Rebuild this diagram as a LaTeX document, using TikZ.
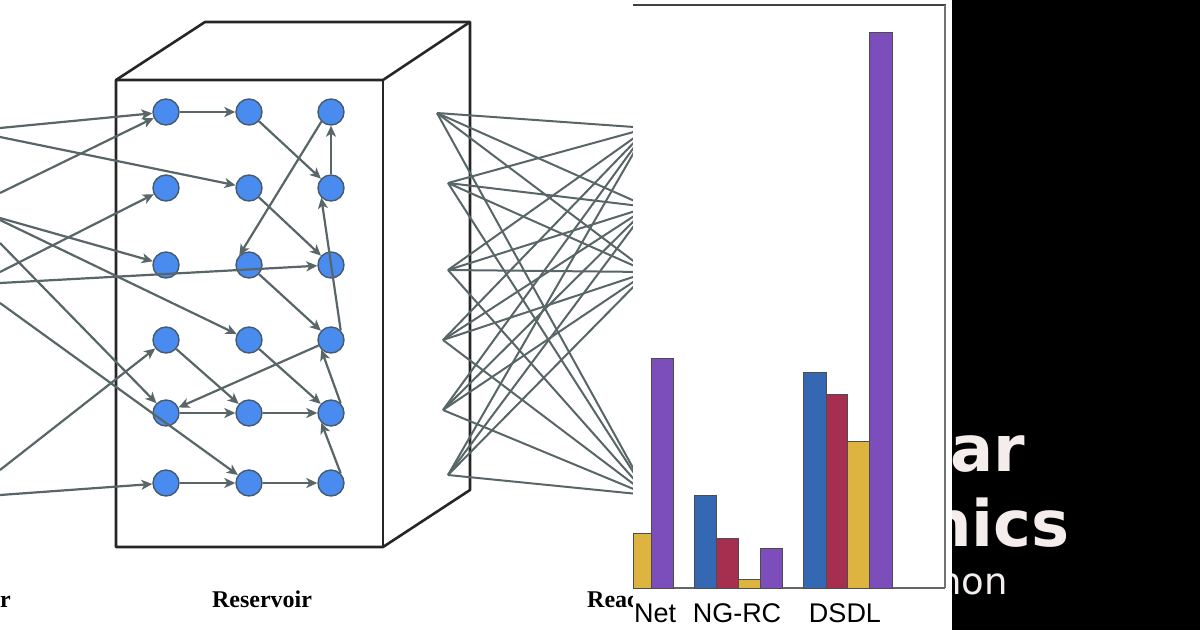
\documentclass[tikz,border=0pt]{standalone}
\usepackage{fontspec}
\setmainfont{Liberation Serif}
\newfontfamily\chartfont{Liberation Sans}
\newfontfamily\titlefont{DejaVu Sans}
\usetikzlibrary{arrows.meta}
\definecolor{wire}{RGB}{88,102,104}
\definecolor{nodefill}{RGB}{74,139,240}
\definecolor{nodeedge}{RGB}{70,90,110}
\definecolor{barblue}{RGB}{52,104,178}
\definecolor{barred}{RGB}{166,46,78}
\definecolor{baryellow}{RGB}{222,180,64}
\definecolor{barpurple}{RGB}{124,78,188}
\definecolor{titlepink}{RGB}{245,236,236}
\begin{document}
\begin{tikzpicture}[x=1pt,y=-1pt,
  neuron/.style={circle,fill=nodefill,draw=nodeedge,line width=1.4pt,minimum size=26pt,inner sep=0pt},
  link/.style={draw=wire,line width=2.2pt,-{Stealth[length=11pt,width=10pt,inset=3pt]}},
  fanline/.style={draw=wire,line width=2pt},
  boxline/.style={draw=black!85,line width=2.6pt,line join=round},
  bar/.style={draw=black!70,line width=0.8pt},
  lab/.style={inner sep=0pt,anchor=base}]
\useasboundingbox (0,0) rectangle (1200,630);
\fill[white] (0,0) rectangle (1200,630);
% reservoir box
\draw[boxline] (116,547) -- (116,80) -- (205,22) -- (470,22) -- (470,490) -- (383,547) -- cycle;
\draw[boxline] (116,80) -- (383,80) -- (470,22);
\draw[boxline] (383,80) -- (383,547);
% neurons
\foreach \c/\x in {a/166,b/249,c/331}{
  \foreach \r/\y in {1/112,2/188,3/265,4/340,5/413,6/483}{
    \node[neuron] (\c\r) at (\x,\y) {};
  }
}
% input coordinates
\coordinate (i1) at (0,128);
\coordinate (i2) at (0,137);
\coordinate (i3) at (0,193);
\coordinate (i4) at (0,218);
\coordinate (i5) at (0,220);
\coordinate (i6) at (0,243);
\coordinate (i7) at (0,272);
\coordinate (i8) at (0,283);
\coordinate (i9) at (0,303);
\coordinate (i10) at (0,470);
\coordinate (i11) at (0,495);
\draw[link] (i1) -- (a1);
\draw[link] (i2) -- (b2);
\draw[link] (i3) -- (a1);
\draw[link] (i4) -- (a3);
\draw[link] (i5) -- (b4);
\draw[link] (i6) -- (a5);
\draw[link] (i7) -- (a2);
\draw[link] (i8) -- (c3);
\draw[link] (i9) -- (b6);
\draw[link] (i10) -- (a4);
\draw[link] (i11) -- (a6);
% internal links
\draw[link] (a1) -- (b1);
\draw[link] (b1) -- (c2);
\draw[link] (c2) -- (c1);
\draw[link] (c1.south west) -- (b3.north west);
\draw[link] (b2) -- (c3);
\draw[link] (b3) -- (c4);
\draw[link] (c4.north east) -- (c2.south west);
\draw[link] (a4) -- (b5);
\draw[link] (b4) -- (c5);
\draw[link] (c4) -- (a5);
\draw[link] (a5) -- (b5);
\draw[link] (b5) -- (c5);
\draw[link] (c5.north east) -- (c4.south west);
\draw[link] (c6.north east) -- (c5.south west);
\draw[link] (a6) -- (b6);
\draw[link] (b6) -- (c6);
% readout fan (clipped by chart)
\begin{scope}
  \clip (0,0) rectangle (633,630);
  \coordinate (r1) at (437,113);
  \coordinate (r2) at (448,183);
  \coordinate (r3) at (448,270);
  \coordinate (r4) at (443,340);
  \coordinate (r5) at (443,410);
  \coordinate (r6) at (448,475);
  \coordinate (o1) at (648,128);
  \coordinate (o2) at (648,207);
  \coordinate (o3) at (648,272);
  \coordinate (o4) at (648,495);
  \foreach \r in {r1,r2,r3,r4,r5,r6}{
    \foreach \o in {o1,o2,o3,o4}{
      \draw[fanline] (\r) -- (\o);
    }
  }
  \node[lab,anchor=base west,font=\bfseries\fontsize{24}{28}\selectfont] (readout) at (587,607) {Reac};
\end{scope}
\node[lab,font=\bfseries\fontsize{24}{28}\selectfont] (reslabel) at (262,607) {Reservoir};
\node[lab,anchor=base west,font=\bfseries\fontsize{24}{28}\selectfont] (inlabel) at (0,607) {r};
% dark title panel
\fill[black] (952,0) rectangle (1200,630);
\node[lab,anchor=base west,text=titlepink,font=\titlefont\bfseries\fontsize{64}{70}\selectfont] (t1) at (950,471) {ar};
\node[lab,anchor=base west,text=titlepink,font=\titlefont\bfseries\fontsize{64}{70}\selectfont] (t2) at (926,546) {nics};
\node[lab,anchor=base west,text=titlepink,font=\titlefont\fontsize{37}{42}\selectfont] (t3) at (938,594) {hon};
% chart panel
\fill[white] (633,0) rectangle (952,630);
\draw[black!75,line width=2pt] (633,5) -- (946,5);
\draw[black!55,line width=1.3pt] (945,5) -- (945,588);
\draw[black!60,line width=1.3pt] (633,588) -- (945,588);
\filldraw[bar,fill=baryellow] (633,533) rectangle (651,588);
\filldraw[bar,fill=barpurple] (651,358) rectangle (673,588);
\filldraw[bar,fill=barblue] (694,495) rectangle (716,588);
\filldraw[bar,fill=barred] (716,538) rectangle (738,588);
\filldraw[bar,fill=baryellow] (738,579) rectangle (760,588);
\filldraw[bar,fill=barpurple] (760,548) rectangle (782,588);
\filldraw[bar,fill=barblue] (803,372) rectangle (826,588);
\filldraw[bar,fill=barred] (826,394) rectangle (847,588);
\filldraw[bar,fill=baryellow] (847,441) rectangle (869,588);
\filldraw[bar,fill=barpurple] (869,32) rectangle (892,588);
\node[lab,anchor=base west,font=\chartfont\fontsize{27}{30}\selectfont] (lnet) at (634,622) {Net};
\node[lab,font=\chartfont\fontsize{27}{30}\selectfont] (lng) at (737,622) {NG-RC};
\node[lab,font=\chartfont\fontsize{27}{30}\selectfont] (ldsdl) at (845,622) {DSDL};
\end{tikzpicture}
\end{document}
